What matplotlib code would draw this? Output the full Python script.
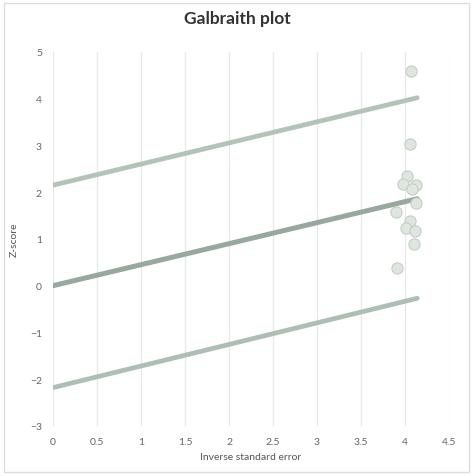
import matplotlib.pyplot as plt
from matplotlib.patches import Rectangle

# study points: inverse standard error vs z-score
inv_se = [4.07, 4.06, 4.02, 3.98, 4.125, 4.08, 4.13, 3.90, 4.06, 4.01, 4.11, 4.10, 3.91]
z_score = [4.60, 3.03, 2.35, 2.18, 2.15, 2.07, 1.77, 1.57, 1.39, 1.23, 1.18, 0.89, 0.37]

# regression line and +/- bounds (start, end)
line_x = [0, 4.14]
line_mid = [0.0, 1.86]
line_up = [2.15, 4.02]
line_lo = [-2.18, -0.27]

plt.rcParams['font.family'] = ['Lato', 'DejaVu Sans']

fig = plt.figure(figsize=(4.74, 4.77), dpi=100)
ax = fig.add_axes([0.112, 0.105, 0.835, 0.784])

fig.patches.append(Rectangle((0.008, 0.008), 0.982, 0.984, transform=fig.transFigure,
                             fill=False, edgecolor='#dddddd', linewidth=1))

ax.plot(line_x, line_up, color='#b2c3b8', linewidth=3.4, solid_capstyle='round', zorder=2)
ax.plot(line_x, line_mid, color='#97a99e', linewidth=3.6, solid_capstyle='round', zorder=2)
ax.plot(line_x, line_lo, color='#adbfb4', linewidth=3.4, solid_capstyle='round', zorder=2)
ax.scatter(inv_se, z_score, s=65, color='#dfe6e0', edgecolors='#c3cdc5', linewidths=0.8, zorder=3)

ax.set_xlim(0, 4.5)
ax.set_ylim(-3, 5)
ax.set_xticks([0, 0.5, 1, 1.5, 2, 2.5, 3, 3.5, 4, 4.5])
ax.set_xticklabels(['0', '0.5', '1', '1.5', '2', '2.5', '3', '3.5', '4', '4.5'])
ax.set_yticks(range(-3, 6))
ax.grid(axis='x', color='#e8e8e8', linewidth=0.9)
ax.set_axisbelow(True)
for s in ax.spines.values():
    s.set_visible(False)
ax.tick_params(length=0, labelsize=7.5, colors='#666666', pad=8)

ax.set_xlabel('Inverse standard error', fontsize=7.5, color='#555555', labelpad=4)
ax.set_ylabel('Z-score', fontsize=7.5, color='#555555', labelpad=8)
fig.text(0.5, 0.96, 'Galbraith plot', ha='center', va='center', fontsize=12.5,
         fontweight='bold', color='#333333')

fig.savefig('out.png', dpi=100)
